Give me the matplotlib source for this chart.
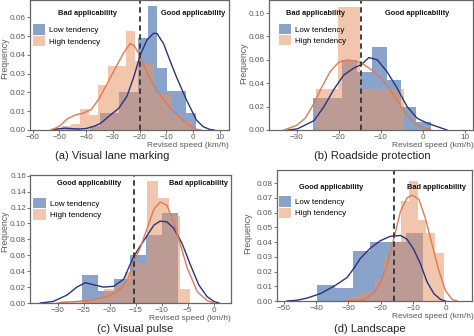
import numpy as np
import matplotlib
matplotlib.use("Agg")
import matplotlib.pyplot as plt

plt.rcParams["font.family"] = ["Liberation Sans", "DejaVu Sans"]

# ---------------- data ----------------
# (a) Visual lane marking
a_low_edges = [-49.3, -45.7, -42.1, -38.5, -34.9, -31.3, -27.7, -24.1, -20.5, -16.9, -13.3, -9.7, -6.1, -2.5, 1.1]
a_low_heights = [0.001, 0.001, 0.0, 0.002, 0.009, 0.009, 0.020, 0.020, 0.049, 0.066, 0.033, 0.021, 0.021, 0.009]
a_high_edges = [-52.65, -49.2, -45.75, -42.3, -38.85, -35.4, -31.95, -28.5, -25.05, -21.6, -18.15, -14.7, -11.25, -7.8, -4.35, -0.9]
a_high_heights = [0.001, 0.002, 0.003, 0.011, 0.008, 0.024, 0.034, 0.034, 0.053, 0.037, 0.035, 0.019, 0.019, 0.008, 0.004]
a_low_kde_x = [-53, -50, -48, -46, -43, -40, -37, -34.6, -30.9, -27.8, -24.7, -22.2, -19.7, -17.2, -14.8, -13.5, -11, -8.6, -6.1, -2.4, 1.3, 3.8, 6.3, 8]
a_low_kde_y = [0.0, 0.0007, 0.0010, 0.0008, 0.0005, 0.0008, 0.002, 0.0035, 0.008, 0.0115, 0.018, 0.028, 0.040, 0.048, 0.0515, 0.0515, 0.046, 0.037, 0.028, 0.016, 0.0053, 0.0018, 0.0003, 0.0]
a_high_kde_x = [-53, -50, -47, -44, -41, -38, -35, -32, -29, -26, -23.5, -22, -20, -17, -14, -11, -8, -5, -2, 1, 3]
a_high_kde_y = [0.0, 0.002, 0.006, 0.008, 0.009, 0.011, 0.017, 0.025, 0.033, 0.041, 0.046, 0.045, 0.040, 0.030, 0.022, 0.016, 0.011, 0.007, 0.003, 0.0005, 0.0]
a_cut = -20.0

# (b) Roadside protection
b_low_edges = [-26.1, -22.6, -19.1, -15.6, -12.1, -8.6, -5.1, -1.6, 1.9]
b_low_heights = [0.027, 0.027, 0.060, 0.050, 0.071, 0.043, 0.020, 0.007]
b_high_edges = [-25.3, -20.1, -14.9, -9.7, -4.5]
b_high_heights = [0.0355, 0.105, 0.035, 0.035]
b_low_kde_x = [-32, -29.8, -25.9, -23.5, -21.1, -18.8, -16.4, -14.6, -12.8, -10.8, -8.5, -6.1, -3.7, -1.3, 1.0, 3.4, 5.8]
b_low_kde_y = [0.0, 0.001, 0.008, 0.020, 0.035, 0.047, 0.053, 0.056, 0.062, 0.060, 0.050, 0.036, 0.020, 0.010, 0.006, 0.003, 0.0]
b_high_kde_x = [-33, -30, -28, -26, -24, -22, -20, -18, -16, -14, -12, -10, -8, -6, -4, -2, 0, 2]
b_high_kde_y = [0.0, 0.004, 0.010, 0.022, 0.037, 0.050, 0.058, 0.060, 0.059, 0.056, 0.051, 0.045, 0.036, 0.025, 0.014, 0.006, 0.002, 0.0]
b_cut = -14.6

# (c) Visual pulse
c_low_edges = [-25.4, -22.3, -19.2, -16.1, -13.0, -9.9, -6.8]
c_low_heights = [0.035, 0.015, 0.030, 0.060, 0.086, 0.113]
c_high_edges = [-29.46, -27.38, -25.30, -23.22, -21.14, -19.06, -16.98, -14.9, -12.82, -10.74, -8.66, -6.58, -4.5]
c_high_heights = [0.002, 0.003, 0.005, 0.008, 0.017, 0.025, 0.039, 0.050, 0.154, 0.132, 0.110, 0.0175]
c_low_kde_x = [-33.3, -30.8, -28.2, -26.3, -24.7, -23.1, -21.2, -19.2, -17.3, -15.5, -14.1, -12.8, -11.5, -10.3, -9.0, -7.7, -6.1, -4.5, -2.9, -1.3, 0.0, 1.0]
c_low_kde_y = [0.0, 0.002, 0.010, 0.020, 0.0255, 0.023, 0.020, 0.021, 0.030, 0.057, 0.072, 0.085, 0.098, 0.103, 0.102, 0.094, 0.075, 0.048, 0.023, 0.008, 0.002, 0.0]
c_high_kde_x = [-30, -28.2, -24.4, -20.5, -18.0, -16.5, -15.5, -14.1, -12.8, -11.5, -10.3, -9.0, -7.7, -6.4, -5.1, -3.2, -1.3, 0.0]
c_high_kde_y = [0.0, 0.001, 0.003, 0.008, 0.017, 0.030, 0.050, 0.070, 0.094, 0.118, 0.127, 0.123, 0.102, 0.073, 0.044, 0.0145, 0.003, 0.0]
c_cut = -15.3

# (d) Landscape
d_low_edges = [-39.6, -34.13, -28.67, -23.2, -17.73, -12.27, -6.8]
d_low_heights = [0.011, 0.0087, 0.034, 0.040, 0.040, 0.046]
d_high_edges = [-29.75, -27.1, -24.45, -21.8, -19.15, -16.5, -13.85, -11.2, -8.55, -5.9, -3.25, -0.6]
d_high_heights = [0.003, 0.005, 0.006, 0.015, 0.030, 0.040, 0.068, 0.0815, 0.055, 0.046, 0.0327]
d_low_kde_x = [-49, -45.9, -42.8, -38.7, -34.5, -30.4, -28.4, -26.3, -23.2, -20.1, -17.0, -13.9, -11.9, -9.8, -7.7, -5.7, -3.6, -1.5, 0.0]
d_low_kde_y = [0.0, 0.0005, 0.002, 0.005, 0.010, 0.016, 0.022, 0.029, 0.036, 0.041, 0.044, 0.0445, 0.042, 0.035, 0.025, 0.013, 0.005, 0.001, 0.0]
d_high_kde_x = [-31, -28, -25, -22, -20, -18, -16, -13.9, -11.9, -10.3, -8.2, -6.2, -4.1, -2.1, 0.0, 2.1, 3.6]
d_high_kde_y = [0.0, 0.0005, 0.001, 0.006, 0.013, 0.025, 0.042, 0.061, 0.070, 0.072, 0.069, 0.056, 0.038, 0.021, 0.007, 0.001, 0.0]
d_cut = -16.0

W, H = 474.0, 336.0
panels = [
    dict(tag="(a) Visual lane marking", low_e=a_low_edges, low_h=a_low_heights, high_e=a_high_edges, high_h=a_high_heights,
         lkx=a_low_kde_x, lky=a_low_kde_y, hkx=a_high_kde_x, hky=a_high_kde_y, cut=a_cut,
         xlim=(-61, 13.5), ylim=(0, 0.069), xticks=[-60, -50, -40, -30, -20, -10, 0, 10],
         yticks=[0, 0.01, 0.02, 0.03, 0.04, 0.05, 0.06],
         left_txt="Bad applicability", right_txt="Good applicability", txt_x=(0.29, 0.82), txt_y=0.90,
         box=(30, 0.5, 229, 130), leg=(0.015, 0.815),
         title_px=(112, 156), ylab_px=(5, 58), xlab_px=(229, 145.5)),
    dict(tag="(b) Roadside protection", low_e=b_low_edges, low_h=b_low_heights, high_e=b_high_edges, high_h=b_high_heights,
         lkx=b_low_kde_x, lky=b_low_kde_y, hkx=b_high_kde_x, hky=b_high_kde_y, cut=b_cut,
         xlim=(-36.6, 12.0), ylim=(0, 0.1108), xticks=[-30, -20, -10, 0, 10],
         yticks=[0, 0.02, 0.04, 0.06, 0.08, 0.10],
         left_txt="Bad applicability", right_txt="Good applicability", txt_x=(0.23, 0.725), txt_y=0.90,
         box=(269, 0.5, 473, 130), leg=(0.047, 0.82),
         title_px=(372, 156), ylab_px=(244, 63), xlab_px=(474, 145.5)),
    dict(tag="(c) Visual pulse", low_e=c_low_edges, low_h=c_low_heights, high_e=c_high_edges, high_h=c_high_heights,
         lkx=c_low_kde_x, lky=c_low_kde_y, hkx=c_high_kde_x, hky=c_high_kde_y, cut=c_cut,
         xlim=(-35.3, 3.3), ylim=(0, 0.161), xticks=[-30, -25, -20, -15, -10, -5, 0],
         yticks=[0, 0.02, 0.04, 0.06, 0.08, 0.10, 0.12, 0.14, 0.16],
         left_txt="Good applicability", right_txt="Bad applicability", txt_x=(0.294, 0.84), txt_y=0.93,
         box=(30, 175, 231, 303), leg=(0.015, 0.82),
         title_px=(135, 329.5), ylab_px=(5, 231), xlab_px=(231, 318.8)),
    dict(tag="(d) Landscape", low_e=d_low_edges, low_h=d_low_heights, high_e=d_high_edges, high_h=d_high_heights,
         lkx=d_low_kde_x, lky=d_low_kde_y, hkx=d_high_kde_x, hky=d_high_kde_y, cut=d_cut,
         xlim=(-52.1, 8.2), ylim=(0, 0.089), xticks=[-50, -40, -30, -20, -10, 0],
         yticks=[0, 0.01, 0.02, 0.03, 0.04, 0.05, 0.06, 0.07, 0.08],
         left_txt="Good applicability", right_txt="Bad applicability", txt_x=(0.277, 0.82), txt_y=0.87,
         box=(277, 170, 472, 301), leg=(0.009, 0.80),
         title_px=(370, 329.5), ylab_px=(248, 233), xlab_px=(474, 316.8)),
]

BLUE_BAR = "#4C72B0"
ORANGE_BAR = "#E8966A"
BLUE_LINE = "#27357e"
ORANGE_LINE = "#e07a50"
GRAY = "#5a5a5a"

fig = plt.figure(figsize=(W / 100, H / 100), dpi=100)
for p in panels:
    x0, y0, x1, y1 = p["box"]
    ax = fig.add_axes([x0 / W, 1 - y1 / H, (x1 - x0) / W, (y1 - y0) / H])
    le = np.array(p["low_e"]); lh = np.array(p["low_h"])
    he = np.array(p["high_e"]); hh = np.array(p["high_h"])
    ax.bar(le[:-1], lh, width=np.diff(le), align="edge", color=BLUE_BAR, alpha=0.65, linewidth=0, label="Low tendency")
    ax.bar(he[:-1], hh, width=np.diff(he), align="edge", color=ORANGE_BAR, alpha=0.55, linewidth=0, label="High tendency")
    ax.plot(p["lkx"], p["lky"], color=BLUE_LINE, lw=1.0)
    ax.plot(p["hkx"], p["hky"], color=ORANGE_LINE, lw=1.0)
    ax.axvline(p["cut"], color="#333333", lw=1.3, ls=(0, (3, 2)))
    ax.set_xlim(*p["xlim"]); ax.set_ylim(*p["ylim"])
    ax.set_xticks(p["xticks"])
    ax.set_yticks(p["yticks"])
    ax.set_yticklabels(["%.2f" % v for v in p["yticks"]])
    ax.tick_params(labelsize=5.9, colors=GRAY, length=2.0, width=0.6, pad=0.8)
    for s in ax.spines.values():
        s.set_color("#666666"); s.set_linewidth(0.9)
    ax.text(p["txt_x"][0], p["txt_y"], p["left_txt"], transform=ax.transAxes, ha="center", va="center",
            fontsize=5.3, fontweight="bold", color="#111111")
    ax.text(p["txt_x"][1], p["txt_y"], p["right_txt"], transform=ax.transAxes, ha="center", va="center",
            fontsize=5.3, fontweight="bold", color="#111111")
    ax.legend(loc="upper left", bbox_to_anchor=p["leg"], frameon=False, fontsize=5.8,
              handlelength=1.55, handleheight=1.6, labelspacing=0.12, handletextpad=0.5,
              borderpad=0, borderaxespad=0)
    fig.text(p["xlab_px"][0] / W, 1 - p["xlab_px"][1] / H, "Revised speed (km/h)", ha="right", va="center",
             fontsize=6.0, color=GRAY)
    fig.text(p["ylab_px"][0] / W, 1 - p["ylab_px"][1] / H, "Frequency", ha="center", va="center",
             rotation=90, fontsize=6.3, color=GRAY)
    fig.text(p["title_px"][0] / W, 1 - p["title_px"][1] / H, p["tag"], ha="center", va="center",
             fontsize=8.0, color="#222222")

fig.savefig("out.png", dpi=100)
